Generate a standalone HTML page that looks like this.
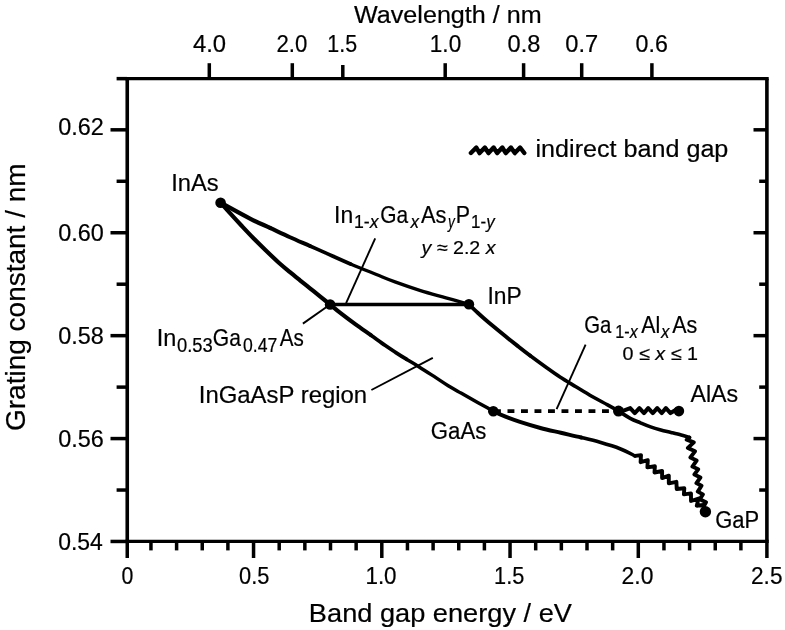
<!DOCTYPE html>
<html><head><meta charset="utf-8"><title>Band gap energy vs grating constant</title>
<style>
html,body{margin:0;padding:0;background:#fff;}
svg{display:block;}
text{font-family:"Liberation Sans", sans-serif;fill:#000;stroke:#000;stroke-width:0.2px;stroke-linejoin:round;}
</style></head>
<body>
<svg width="785" height="630" viewBox="0 0 785 630">
<rect width="785" height="630" fill="#fff"/>
<line x1="125.45" y1="78.65" x2="768.70" y2="78.65" stroke="#000" stroke-width="3.2" />
<line x1="125.45" y1="541.45" x2="768.70" y2="541.45" stroke="#000" stroke-width="3.2" />
<line x1="127.25" y1="78.65" x2="127.25" y2="541.45" stroke="#000" stroke-width="3.6" />
<line x1="766.90" y1="78.65" x2="766.90" y2="541.45" stroke="#000" stroke-width="3.6" />
<line x1="127.25" y1="541.45" x2="127.25" y2="558.00" stroke="#000" stroke-width="3.5" />
<line x1="150.95" y1="541.45" x2="150.95" y2="550.40" stroke="#000" stroke-width="3.5" />
<line x1="176.60" y1="541.45" x2="176.60" y2="550.40" stroke="#000" stroke-width="3.5" />
<line x1="202.25" y1="541.45" x2="202.25" y2="550.40" stroke="#000" stroke-width="3.5" />
<line x1="227.90" y1="541.45" x2="227.90" y2="550.40" stroke="#000" stroke-width="3.5" />
<line x1="253.55" y1="541.45" x2="253.55" y2="558.00" stroke="#000" stroke-width="3.5" />
<line x1="279.20" y1="541.45" x2="279.20" y2="550.40" stroke="#000" stroke-width="3.5" />
<line x1="304.85" y1="541.45" x2="304.85" y2="550.40" stroke="#000" stroke-width="3.5" />
<line x1="330.50" y1="541.45" x2="330.50" y2="550.40" stroke="#000" stroke-width="3.5" />
<line x1="356.15" y1="541.45" x2="356.15" y2="550.40" stroke="#000" stroke-width="3.5" />
<line x1="381.80" y1="541.45" x2="381.80" y2="558.00" stroke="#000" stroke-width="3.5" />
<line x1="407.45" y1="541.45" x2="407.45" y2="550.40" stroke="#000" stroke-width="3.5" />
<line x1="433.10" y1="541.45" x2="433.10" y2="550.40" stroke="#000" stroke-width="3.5" />
<line x1="458.75" y1="541.45" x2="458.75" y2="550.40" stroke="#000" stroke-width="3.5" />
<line x1="484.40" y1="541.45" x2="484.40" y2="550.40" stroke="#000" stroke-width="3.5" />
<line x1="510.05" y1="541.45" x2="510.05" y2="558.00" stroke="#000" stroke-width="3.5" />
<line x1="535.70" y1="541.45" x2="535.70" y2="550.40" stroke="#000" stroke-width="3.5" />
<line x1="561.35" y1="541.45" x2="561.35" y2="550.40" stroke="#000" stroke-width="3.5" />
<line x1="587.00" y1="541.45" x2="587.00" y2="550.40" stroke="#000" stroke-width="3.5" />
<line x1="612.65" y1="541.45" x2="612.65" y2="550.40" stroke="#000" stroke-width="3.5" />
<line x1="638.30" y1="541.45" x2="638.30" y2="558.00" stroke="#000" stroke-width="3.5" />
<line x1="663.95" y1="541.45" x2="663.95" y2="550.40" stroke="#000" stroke-width="3.5" />
<line x1="689.60" y1="541.45" x2="689.60" y2="550.40" stroke="#000" stroke-width="3.5" />
<line x1="715.25" y1="541.45" x2="715.25" y2="550.40" stroke="#000" stroke-width="3.5" />
<line x1="740.90" y1="541.45" x2="740.90" y2="550.40" stroke="#000" stroke-width="3.5" />
<line x1="766.90" y1="541.45" x2="766.90" y2="558.00" stroke="#000" stroke-width="3.5" />
<line x1="110.50" y1="541.45" x2="127.25" y2="541.45" stroke="#000" stroke-width="3.5" />
<line x1="116.60" y1="490.04" x2="127.25" y2="490.04" stroke="#000" stroke-width="3.5" />
<line x1="759.20" y1="490.04" x2="766.90" y2="490.04" stroke="#000" stroke-width="3.5" />
<line x1="110.50" y1="438.58" x2="127.25" y2="438.58" stroke="#000" stroke-width="3.5" />
<line x1="753.50" y1="438.58" x2="766.90" y2="438.58" stroke="#000" stroke-width="3.5" />
<line x1="116.60" y1="387.12" x2="127.25" y2="387.12" stroke="#000" stroke-width="3.5" />
<line x1="759.20" y1="387.12" x2="766.90" y2="387.12" stroke="#000" stroke-width="3.5" />
<line x1="110.50" y1="335.66" x2="127.25" y2="335.66" stroke="#000" stroke-width="3.5" />
<line x1="753.50" y1="335.66" x2="766.90" y2="335.66" stroke="#000" stroke-width="3.5" />
<line x1="116.60" y1="284.20" x2="127.25" y2="284.20" stroke="#000" stroke-width="3.5" />
<line x1="759.20" y1="284.20" x2="766.90" y2="284.20" stroke="#000" stroke-width="3.5" />
<line x1="110.50" y1="232.74" x2="127.25" y2="232.74" stroke="#000" stroke-width="3.5" />
<line x1="753.50" y1="232.74" x2="766.90" y2="232.74" stroke="#000" stroke-width="3.5" />
<line x1="116.60" y1="181.28" x2="127.25" y2="181.28" stroke="#000" stroke-width="3.5" />
<line x1="759.20" y1="181.28" x2="766.90" y2="181.28" stroke="#000" stroke-width="3.5" />
<line x1="110.50" y1="129.82" x2="127.25" y2="129.82" stroke="#000" stroke-width="3.5" />
<line x1="753.50" y1="129.82" x2="766.90" y2="129.82" stroke="#000" stroke-width="3.5" />
<line x1="116.60" y1="78.65" x2="127.25" y2="78.65" stroke="#000" stroke-width="3.5" />
<line x1="209.30" y1="63.20" x2="209.30" y2="78.65" stroke="#000" stroke-width="3.5" />
<line x1="292.30" y1="63.20" x2="292.30" y2="78.65" stroke="#000" stroke-width="3.5" />
<line x1="342.80" y1="65.00" x2="342.80" y2="78.65" stroke="#000" stroke-width="3.5" />
<line x1="445.20" y1="63.20" x2="445.20" y2="78.65" stroke="#000" stroke-width="3.5" />
<line x1="523.60" y1="63.20" x2="523.60" y2="78.65" stroke="#000" stroke-width="3.5" />
<line x1="581.70" y1="63.20" x2="581.70" y2="78.65" stroke="#000" stroke-width="3.5" />
<line x1="651.90" y1="63.20" x2="651.90" y2="78.65" stroke="#000" stroke-width="3.5" />
<path d="M220.60,202.70 C225.50,205.35 241.77,214.40 250.00,218.60 C258.23,222.80 263.33,224.80 270.00,227.90" fill="none" stroke="#000" stroke-width="4.3" stroke-linejoin="round" stroke-linecap="round"/>
<path d="M270.00,227.90 C276.67,231.00 283.33,234.18 290.00,237.20 C296.67,240.22 304.08,243.38 310.00,246.00" fill="none" stroke="#000" stroke-width="4.0" stroke-linejoin="round" stroke-linecap="round"/>
<path d="M310.00,246.00 C315.92,248.62 318.67,249.87 325.50,252.90 C332.33,255.93 342.52,260.60 351.00,264.20" fill="none" stroke="#000" stroke-width="3.7" stroke-linejoin="round" stroke-linecap="round"/>
<path d="M351.00,264.20 C359.48,267.80 369.07,271.55 376.40,274.50 C383.73,277.45 387.65,279.22 395.00,281.90 C402.35,284.58 412.00,287.95 420.50,290.60 C429.00,293.25 437.93,295.52 446.00,297.80 C454.07,300.08 465.08,303.22 468.90,304.30" fill="none" stroke="#000" stroke-width="3.3" stroke-linejoin="round" stroke-linecap="round"/>
<path d="M220.60,202.70 C222.17,204.45 226.50,209.35 230.00,213.20 C233.50,217.05 237.77,221.70 241.60,225.80 C245.43,229.90 248.95,233.68 253.00,237.80 C257.05,241.92 261.40,246.17 265.90,250.50 C270.40,254.83 275.98,260.18 280.00,263.80 C284.02,267.42 286.67,269.45 290.00,272.20 C293.33,274.95 296.67,277.62 300.00,280.30 C303.33,282.98 306.67,285.63 310.00,288.30 C313.33,290.97 316.65,293.60 320.00,296.30 C323.35,299.00 326.72,301.73 330.10,304.50" fill="none" stroke="#000" stroke-width="4.2" stroke-linejoin="round" stroke-linecap="round"/>
<path d="M330.10,304.50 C333.48,307.27 336.05,309.58 340.30,312.90 C344.55,316.22 350.50,320.68 355.60,324.40 C360.70,328.12 366.00,331.72 370.90,335.20" fill="none" stroke="#000" stroke-width="4.1" stroke-linejoin="round" stroke-linecap="round"/>
<path d="M370.90,335.20 C375.80,338.68 380.90,342.45 385.00,345.30 C389.10,348.15 391.93,349.98 395.50,352.30 C399.07,354.62 402.45,356.77 406.40,359.20" fill="none" stroke="#000" stroke-width="3.8" stroke-linejoin="round" stroke-linecap="round"/>
<path d="M406.40,359.20 C410.35,361.63 414.35,363.87 419.20,366.90 C424.05,369.93 430.67,374.27 435.50,377.40 C440.33,380.53 443.95,383.08 448.20,385.70 C452.45,388.32 456.75,390.67 461.00,393.10 C465.25,395.53 469.47,397.93 473.70,400.30 C477.93,402.67 483.13,405.48 486.40,407.30 C489.67,409.12 490.12,409.63 493.30,411.20" fill="none" stroke="#000" stroke-width="3.5" stroke-linejoin="round" stroke-linecap="round"/>
<path d="M493.30,411.20 C496.48,412.77 501.05,414.92 505.50,416.70 C509.95,418.48 514.18,420.02 520.00,421.90 C525.82,423.78 533.60,426.18 540.40,428.00 C547.20,429.82 554.00,431.22 560.80,432.80 C567.60,434.38 574.67,435.92 581.20,437.50" fill="none" stroke="#000" stroke-width="4.0" stroke-linejoin="round" stroke-linecap="round"/>
<path d="M581.20,437.50 C587.73,439.08 593.53,440.43 600.00,442.30 C606.47,444.17 614.15,446.43 620.00,448.70 C625.85,450.97 632.58,454.70 635.10,455.90" fill="none" stroke="#000" stroke-width="3.6" stroke-linejoin="round" stroke-linecap="round"/>
<path d="M468.80,304.30 C470.28,305.70 475.20,310.38 477.70,312.70 C480.20,315.02 481.30,316.02 483.80,318.20 C486.30,320.38 489.08,322.78 492.70,325.80 C496.32,328.82 501.25,332.87 505.50,336.30 C509.75,339.73 514.12,343.20 518.20,346.40 C522.28,349.60 525.53,352.15 530.00,355.50" fill="none" stroke="#000" stroke-width="3.9" stroke-linejoin="round" stroke-linecap="round"/>
<path d="M530.00,355.50 C534.47,358.85 540.00,362.92 545.00,366.50 C550.00,370.08 554.85,373.63 560.00,377.00 C565.15,380.37 570.62,383.50 575.90,386.70 C581.18,389.90 586.42,393.17 591.70,396.20 C596.98,399.23 603.13,402.42 607.60,404.90 C612.07,407.38 614.73,408.87 618.50,411.10" fill="none" stroke="#000" stroke-width="3.6" stroke-linejoin="round" stroke-linecap="round"/>
<path d="M618.50,411.10 C622.27,413.33 626.55,416.35 630.20,418.30 C633.85,420.25 637.00,421.37 640.40,422.80 C643.80,424.23 647.20,425.70 650.60,426.90 C654.00,428.10 657.40,429.07 660.80,430.00 C664.20,430.93 667.60,431.65 671.00,432.50 C674.40,433.35 678.13,434.27 681.20,435.10 C684.27,435.93 688.03,437.10 689.40,437.50" fill="none" stroke="#000" stroke-width="3.6" stroke-linejoin="round" stroke-linecap="round"/>
<line x1="330.10" y1="304.45" x2="468.90" y2="304.40" stroke="#000" stroke-width="3.5" />
<line x1="494.00" y1="411.20" x2="614.50" y2="411.20" stroke="#000" stroke-width="3.7" stroke-dasharray="6.9 6.6"/>
<path d="M621.00,411.60 L630.20,408.15 L634.80,413.05 L639.40,408.15 L644.00,413.05 L648.20,408.15 L652.80,413.05 L657.20,408.15 L661.80,413.05 L665.90,408.15 L670.50,413.05 L676.00,409.80" fill="none" stroke="#000" stroke-width="4.1" stroke-linejoin="round" stroke-linecap="round" />
<path d="M470.90,153.00 L476.30,147.50 L479.60,153.10 L484.90,147.50 L488.50,153.10 L493.60,147.50 L497.20,153.10 L502.30,147.50 L505.80,153.10 L510.90,147.50 L514.80,153.10 L520.10,147.50 L524.30,153.00" fill="none" stroke="#000" stroke-width="4.4" stroke-linejoin="round" stroke-linecap="round" />
<path d="M689.40,437.50 L686.70,439.70 L693.80,442.30 L687.90,447.90 L695.00,451.30 L690.40,457.40 L696.60,460.60 L692.40,466.60 L698.20,469.30 L694.40,474.40 L700.40,477.50 L696.40,483.10 L701.50,485.70 L697.80,491.60 L702.90,494.40 L699.80,499.20 L706.00,502.30 L703.60,506.50 L705.30,511.50" fill="none" stroke="#000" stroke-width="3.9" stroke-linejoin="round" stroke-linecap="round" />
<path d="M635.10,455.90 L641.00,455.10 L640.60,462.20 L647.80,460.20 L647.40,467.40 L654.90,466.20 L654.50,472.50 L662.10,471.00 L662.10,478.10 L668.80,475.70 L668.80,483.30 L676.40,481.80 L676.70,489.00 L684.30,488.30 L683.90,494.40 L691.00,493.40 L691.00,501.00 L698.50,498.60 L696.80,505.70 L703.30,504.90 L705.30,511.50" fill="none" stroke="#000" stroke-width="3.9" stroke-linejoin="round" stroke-linecap="round" />
<circle cx="220.6" cy="202.7" r="5.3" fill="#000"/>
<circle cx="330.1" cy="304.5" r="5.3" fill="#000"/>
<circle cx="468.9" cy="304.3" r="5.3" fill="#000"/>
<circle cx="493.3" cy="411.2" r="5.3" fill="#000"/>
<circle cx="618.5" cy="411.1" r="5.5" fill="#000"/>
<circle cx="678.9" cy="411.1" r="5.3" fill="#000"/>
<circle cx="705.4" cy="511.7" r="5.7" fill="#000"/>
<line x1="375.20" y1="238.30" x2="346.10" y2="303.20" stroke="#000" stroke-width="1.9" />
<line x1="330.10" y1="304.50" x2="302.90" y2="323.60" stroke="#000" stroke-width="1.9" />
<line x1="371.40" y1="390.00" x2="432.80" y2="357.80" stroke="#000" stroke-width="1.9" />
<line x1="585.60" y1="344.60" x2="556.60" y2="409.20" stroke="#000" stroke-width="1.9" />
<text id="tt0" x="192.98" y="51.7" font-size="23" textLength="33.13" lengthAdjust="spacingAndGlyphs">4.0</text>
<text id="tt1" x="276.41" y="51.7" font-size="23" textLength="30.86" lengthAdjust="spacingAndGlyphs">2.0</text>
<text id="tt2" x="327.31" y="51.7" font-size="23" textLength="29.76" lengthAdjust="spacingAndGlyphs">1.5</text>
<text id="tt3" x="429.83" y="51.7" font-size="23" textLength="31.35" lengthAdjust="spacingAndGlyphs">1.0</text>
<text id="tt4" x="507.59" y="51.7" font-size="23" textLength="32.82" lengthAdjust="spacingAndGlyphs">0.8</text>
<text id="tt5" x="565.39" y="51.7" font-size="23" textLength="32.92" lengthAdjust="spacingAndGlyphs">0.7</text>
<text id="tt6" x="635.59" y="51.7" font-size="23" textLength="32.29" lengthAdjust="spacingAndGlyphs">0.6</text>
<text id="ty0" x="58.18" y="134.7" font-size="23" textLength="45.61" lengthAdjust="spacingAndGlyphs">0.62</text>
<text id="ty1" x="58.19" y="240.7" font-size="23" textLength="45.59" lengthAdjust="spacingAndGlyphs">0.60</text>
<text id="ty2" x="58.18" y="344.4" font-size="23" textLength="45.61" lengthAdjust="spacingAndGlyphs">0.58</text>
<text id="ty3" x="58.18" y="446.7" font-size="23" textLength="45.61" lengthAdjust="spacingAndGlyphs">0.56</text>
<text id="ty4" x="58.20" y="550.4" font-size="23" textLength="44.57" lengthAdjust="spacingAndGlyphs">0.54</text>
<text id="tx0" x="121.61" y="584.4" font-size="23" textLength="11.86" lengthAdjust="spacingAndGlyphs">0</text>
<text id="tx1" x="239.00" y="584.4" font-size="23" textLength="30.34" lengthAdjust="spacingAndGlyphs">0.5</text>
<text id="tx2" x="365.43" y="584.4" font-size="23" textLength="31.14" lengthAdjust="spacingAndGlyphs">1.0</text>
<text id="tx3" x="494.06" y="584.4" font-size="23" textLength="30.20" lengthAdjust="spacingAndGlyphs">1.5</text>
<text id="tx4" x="621.59" y="584.4" font-size="23" textLength="31.79" lengthAdjust="spacingAndGlyphs">2.0</text>
<text id="tx5" x="751.02" y="584.4" font-size="23" textLength="31.46" lengthAdjust="spacingAndGlyphs">2.5</text>
<text id="ttl" x="354.04" y="23.3" font-size="23.3" textLength="187.63" lengthAdjust="spacingAndGlyphs">Wavelength / nm</text>
<text id="btl" x="308.89" y="622.0" font-size="25.4" textLength="263.04" lengthAdjust="spacingAndGlyphs">Band gap energy / eV</text>
<text id="ytl" transform="translate(24.5,431.01) rotate(-90)" font-size="27.3" textLength="267.62" lengthAdjust="spacingAndGlyphs">Grating constant / nm</text>
<text id="InAs" x="171.23" y="190.7" font-size="24.1" textLength="47.49" lengthAdjust="spacingAndGlyphs">InAs</text>
<text id="InP" x="487.49" y="303.8" font-size="24.6" textLength="34.29" lengthAdjust="spacingAndGlyphs">InP</text>
<text id="GaAs" x="430.84" y="439.0" font-size="23.3" textLength="55.41" lengthAdjust="spacingAndGlyphs">GaAs</text>
<text id="AlAs" x="690.40" y="401.6" font-size="23.8" textLength="47.84" lengthAdjust="spacingAndGlyphs">AlAs</text>
<text id="GaP" x="715.23" y="527.7" font-size="23.3" textLength="43.94" lengthAdjust="spacingAndGlyphs">GaP</text>
<text id="reg" x="198.79" y="402.8" font-size="23.8" textLength="168.39" lengthAdjust="spacingAndGlyphs">InGaAsP region</text>
<text id="leg" x="535.54" y="156.5" font-size="23" textLength="192.81" lengthAdjust="spacingAndGlyphs">indirect band gap</text>
<text id="a1" x="334.03" y="223.3" font-size="23.6" textLength="19.13" lengthAdjust="spacingAndGlyphs">In</text>
<text id="a2" x="354.04" y="227.6" font-size="18.5" textLength="24.59" lengthAdjust="spacingAndGlyphs">1-<tspan font-style="italic">x</tspan></text>
<text id="a3" x="380.27" y="223.3" font-size="23.6" textLength="27.85" lengthAdjust="spacingAndGlyphs">Ga</text>
<text id="a4" x="410.53" y="227.6" font-size="18.5" textLength="8.53" lengthAdjust="spacingAndGlyphs"><tspan font-style="italic">x</tspan></text>
<text id="a5" x="421.00" y="223.3" font-size="23.6" textLength="25.51" lengthAdjust="spacingAndGlyphs">As</text>
<text id="a6" x="447.94" y="227.6" font-size="18.5" textLength="6.81" lengthAdjust="spacingAndGlyphs"><tspan font-style="italic">y</tspan></text>
<text id="a7" x="455.70" y="223.3" font-size="23.6" textLength="14.28" lengthAdjust="spacingAndGlyphs">P</text>
<text id="a8" x="471.08" y="227.6" font-size="18.5" textLength="23.54" lengthAdjust="spacingAndGlyphs">1-<tspan font-style="italic">y</tspan></text>
<text id="a9" x="421.49" y="254.3" font-size="18.6" textLength="74.05" lengthAdjust="spacingAndGlyphs"><tspan font-style="italic">y</tspan> ≈ 2.2 <tspan font-style="italic">x</tspan></text>
<text id="b1" x="156.80" y="345.5" font-size="23.6" textLength="19.60" lengthAdjust="spacingAndGlyphs">In</text>
<text id="b2" x="177.01" y="351.8" font-size="19.3" textLength="35.75" lengthAdjust="spacingAndGlyphs">0.53</text>
<text id="b3" x="212.82" y="345.5" font-size="23.6" textLength="28.07" lengthAdjust="spacingAndGlyphs">Ga</text>
<text id="b4" x="243.00" y="351.8" font-size="19.3" textLength="34.29" lengthAdjust="spacingAndGlyphs">0.47</text>
<text id="b5" x="279.77" y="345.5" font-size="23.6" textLength="24.10" lengthAdjust="spacingAndGlyphs">As</text>
<text id="c1" x="584.30" y="333.1" font-size="23.6" textLength="27.12" lengthAdjust="spacingAndGlyphs">Ga</text>
<text id="c2" x="615.28" y="337.8" font-size="18.5" textLength="22.43" lengthAdjust="spacingAndGlyphs">1-<tspan font-style="italic">x</tspan></text>
<text id="c3" x="641.15" y="333.1" font-size="23.6" textLength="19.01" lengthAdjust="spacingAndGlyphs">Al</text>
<text id="c4" x="660.94" y="337.8" font-size="18.5" textLength="8.44" lengthAdjust="spacingAndGlyphs"><tspan font-style="italic">x</tspan></text>
<text id="c5" x="672.20" y="333.1" font-size="23.6" textLength="25.12" lengthAdjust="spacingAndGlyphs">As</text>
<text id="c6" x="622.59" y="360.1" font-size="18.5" textLength="75.37" lengthAdjust="spacingAndGlyphs">0 ≤ <tspan font-style="italic">x</tspan> ≤ 1</text>
</svg>
</body></html>
